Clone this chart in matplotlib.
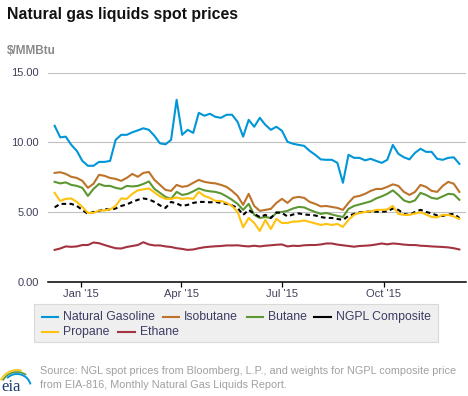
import matplotlib
matplotlib.use('Agg')
import matplotlib.pyplot as plt
import matplotlib.dates as mdates
from matplotlib.lines import Line2D
from matplotlib.patches import Rectangle, Arc
from matplotlib.ticker import FuncFormatter
import pandas as pd

plt.rcParams['font.family'] = ['Liberation Sans', 'DejaVu Sans']

# sample dates (every 5 days, Dec 2014 - Dec 2015)
dates = pd.date_range('2014-12-08', periods=74, freq='5D')

natural_gasoline = [
    11.18, 10.35, 10.4, 9.81, 9.38, 8.66, 8.31, 8.31, 8.59, 8.59,
    8.66, 10.17, 10.53, 10.53, 10.71, 10.85, 11.0, 10.89, 10.46, 9.92,
    9.85, 10.17, 13.04, 10.53, 10.89, 10.67, 12.11, 11.9, 12.04, 11.82,
    11.75, 11.97, 11.97, 11.46, 10.4, 11.61, 11.11, 11.75, 11.25, 10.89,
    11.11, 10.82, 10.03, 9.89, 9.81, 9.74, 9.38, 9.1, 8.77, 8.74,
    8.74, 8.52, 7.09, 9.1, 8.88, 8.88, 8.7, 8.81, 8.66, 8.52,
    8.74, 9.81, 9.17, 8.92, 8.77, 9.24, 9.53, 9.31, 9.31, 8.81,
    8.74, 8.88, 8.92, 8.45]
isobutane = [
    7.8, 7.85, 7.73, 7.52, 7.44, 7.23, 6.73, 7.02, 7.66, 7.59,
    7.44, 7.37, 7.23, 7.44, 7.73, 7.52, 7.8, 7.87, 7.3, 6.94,
    6.58, 6.51, 6.94, 6.8, 6.87, 7.09, 7.3, 7.16, 7.09, 7.05,
    6.94, 6.8, 6.51, 6.15, 5.51, 6.3, 5.43, 5.08, 5.15, 5.22,
    5.65, 5.94, 5.65, 6.01, 6.08, 6.01, 5.72, 5.58, 5.4, 5.43,
    5.36, 5.29, 5.15, 5.65, 6.08, 6.15, 6.3, 6.51, 6.65, 6.65,
    6.8, 6.98, 6.87, 6.44, 6.22, 6.44, 6.94, 6.8, 6.51, 6.44,
    6.87, 7.16, 7.02, 6.44]
butane = [
    7.16, 7.05, 7.12, 6.94, 6.87, 6.73, 6.15, 6.65, 7.01, 6.87,
    6.87, 6.73, 6.65, 6.87, 6.83, 6.87, 7.01, 7.19, 6.65, 6.37,
    6.08, 5.94, 6.44, 6.22, 6.3, 6.48, 6.69, 6.55, 6.48, 6.44,
    6.33, 6.12, 5.87, 5.58, 5.15, 5.58, 4.79, 4.57, 4.64, 4.57,
    4.93, 5.0, 5.08, 5.25, 5.36, 5.33, 5.15, 5.0, 4.86, 4.93,
    4.82, 4.72, 4.64, 5.22, 5.43, 5.54, 5.65, 5.76, 5.97, 6.12,
    6.3, 6.55, 6.22, 5.83, 5.69, 5.83, 6.37, 6.22, 6.01, 5.94,
    6.12, 6.3, 6.26, 5.87]
ngpl_composite = [
    5.33, 5.58, 5.58, 5.58, 5.43, 5.15, 4.86, 5.0, 5.08, 5.22,
    5.15, 5.25, 5.43, 5.54, 5.72, 5.87, 5.97, 5.9, 5.72, 5.47,
    5.29, 5.72, 5.61, 5.43, 5.51, 5.65, 5.72, 5.72, 5.69, 5.72,
    5.65, 5.58, 5.47, 5.29, 4.79, 5.15, 4.86, 4.64, 4.79, 4.57,
    4.97, 4.93, 4.68, 4.82, 4.9, 4.82, 4.79, 4.75, 4.64, 4.57,
    4.57, 4.5, 4.43, 4.72, 4.86, 4.97, 5.02, 5.02, 5.02, 5.02,
    5.04, 5.25, 5.15, 4.86, 4.79, 5.0, 5.15, 5.0, 4.9, 4.75,
    4.72, 4.82, 4.86, 4.57]
propane = [
    6.37, 5.79, 5.94, 5.97, 5.72, 5.36, 4.93, 4.93, 5.11, 5.11,
    5.18, 5.43, 5.97, 5.94, 6.3, 6.55, 6.62, 6.69, 6.4, 6.12,
    5.94, 5.94, 6.04, 5.94, 5.99, 5.94, 6.44, 6.15, 6.01, 5.79,
    5.79, 5.65, 5.43, 5.0, 3.9, 4.57, 4.21, 3.64, 4.43, 3.78,
    4.5, 4.21, 4.21, 4.31, 4.32, 4.39, 4.29, 4.18, 4.07, 4.14,
    4.07, 4.14, 3.93, 4.43, 4.79, 4.93, 5.0, 5.04, 5.15, 5.15,
    5.18, 5.43, 4.86, 4.79, 4.79, 4.9, 4.97, 4.82, 4.64, 4.61,
    4.79, 4.79, 4.68, 4.5]
ethane = [
    2.28, 2.38, 2.53, 2.5, 2.53, 2.63, 2.63, 2.81, 2.76, 2.63,
    2.51, 2.4, 2.38, 2.49, 2.56, 2.63, 2.83, 2.67, 2.6, 2.6,
    2.53, 2.49, 2.4, 2.35, 2.28, 2.31, 2.4, 2.47, 2.51, 2.54,
    2.56, 2.6, 2.6, 2.61, 2.56, 2.53, 2.58, 2.53, 2.58, 2.61,
    2.65, 2.67, 2.53, 2.58, 2.56, 2.61, 2.63, 2.63, 2.67, 2.74,
    2.74, 2.66, 2.61, 2.56, 2.51, 2.56, 2.58, 2.61, 2.67, 2.74,
    2.68, 2.74, 2.71, 2.66, 2.63, 2.63, 2.58, 2.56, 2.53, 2.51,
    2.49, 2.46, 2.4, 2.31]

series_names = ['Natural Gasoline', 'Isobutane', 'Butane', 'NGPL Composite', 'Propane', 'Ethane']
series_values = [natural_gasoline, isobutane, butane, ngpl_composite, propane, ethane]
colors = ['#0096d7', '#bd732a', '#5d9732', '#000000', '#ffc20e', '#a33340']
styles = ['-', '-', '-', (0, (2.2, 1.6)), '-', '-']

y_ticks = [0, 5, 10, 15]
x_ticks = pd.to_datetime(['2015-01-01', '2015-04-01', '2015-07-01', '2015-10-01'])

# --- figure, pixel helpers ---
W, H = 468, 396
fig = plt.figure(figsize=(W / 100, H / 100), dpi=100, facecolor='white')


def fx(x):
    return x / W


def fy(y):
    return 1 - y / H


ax = fig.add_axes([fx(48), fy(281.7), fx(466) - fx(48), (281.7 - 72.5) / H])

for vals, c, ls in zip(series_values, colors, styles):
    ax.plot(dates, vals, color=c, linestyle=ls, linewidth=1.5, solid_joinstyle='round')

ax.set_ylim(0, 15)
ax.set_xlim(pd.Timestamp('2014-12-02'), pd.Timestamp('2015-12-14'))
ax.set_yticks(y_ticks)
ax.yaxis.set_major_formatter(FuncFormatter(lambda v, p: f'{v:.2f}'))
ax.set_xticks(x_ticks)
ax.xaxis.set_major_formatter(mdates.DateFormatter("%b '%y"))

ax.grid(axis='y', color='#c0c0c0', linewidth=0.8)
ax.set_axisbelow(True)
for s in ['top', 'right', 'left']:
    ax.spines[s].set_visible(False)
ax.spines['bottom'].set_color('black')
ax.spines['bottom'].set_linewidth(1.1)
ax.spines['bottom'].set_zorder(5)

ax.tick_params(axis='y', length=0, pad=6.5, labelsize=8, labelcolor='#40405a')
ax.tick_params(axis='x', length=3.8, width=0.9, color='black', pad=1.5,
               labelsize=8, labelcolor='#40405a')

# --- title and unit ---
fig.text(fx(7), fy(14), 'Natural gas liquids spot prices', fontsize=11.4,
         fontweight='bold', color='#111111', va='center', ha='left')
fig.text(fx(7), fy(51), '$/MMBtu', fontsize=8.5, fontweight='bold',
         color='#8a8a8a', va='center', ha='left')

# --- legend box (drawn by hand to keep the row-wise layout) ---
fig.add_artist(Rectangle((fx(34), fy(342.3)), fx(437.7) - fx(34), (342.3 - 304) / H,
                         transform=fig.transFigure, facecolor='#efefef',
                         edgecolor='#d9d9d9', linewidth=0.8))
legend_pos = [(41.7, 316.7), (162.7, 316.7), (246.7, 316.7), (314.3, 316.7),
              (41.7, 331.7), (118.3, 331.7)]
for name, c, (lx, ly) in zip(series_names, colors, legend_pos):
    fig.add_artist(Line2D([fx(lx), fx(lx + 16.5)], [fy(ly), fy(ly)],
                          transform=fig.transFigure, color=c, linewidth=1.5))
    fig.text(fx(lx + 21.5), fy(ly), name, fontsize=8.8, color='#3c3c64',
             va='center', ha='left')

# --- source note ---
fig.text(fx(39.5), fy(371), 'Source: NGL spot prices from Bloomberg, L.P., and weights for NGPL composite price',
         fontsize=7.8, color='#a0a0a0', va='center', ha='left')
fig.text(fx(39.5), fy(385.5), 'from EIA-816, Monthly Natural Gas Liquids Report.',
         fontsize=7.8, color='#a0a0a0', va='center', ha='left')

# --- small eia logo ---
lax = fig.add_axes([fx(0), fy(394), fx(34), (394 - 362) / H])
lax.set_xlim(0, 34)
lax.set_ylim(0, 32)
lax.axis('off')
lax.add_patch(Arc((17, 6), 36, 36, theta1=75, theta2=155, color='#ffc20e', lw=1.2))
lax.add_patch(Arc((17, 6), 32, 32, theta1=55, theta2=152, color='#5d9732', lw=1.2))
lax.add_patch(Arc((17, 6), 28, 28, theta1=15, theta2=135, color='#0096d7', lw=1.4))
lax.text(1, 3, 'eia', fontsize=12, family=['Liberation Serif', 'DejaVu Serif'],
         color='#1d3c6e', va='baseline', ha='left')

fig.savefig('out.png', dpi=100, facecolor='white')
